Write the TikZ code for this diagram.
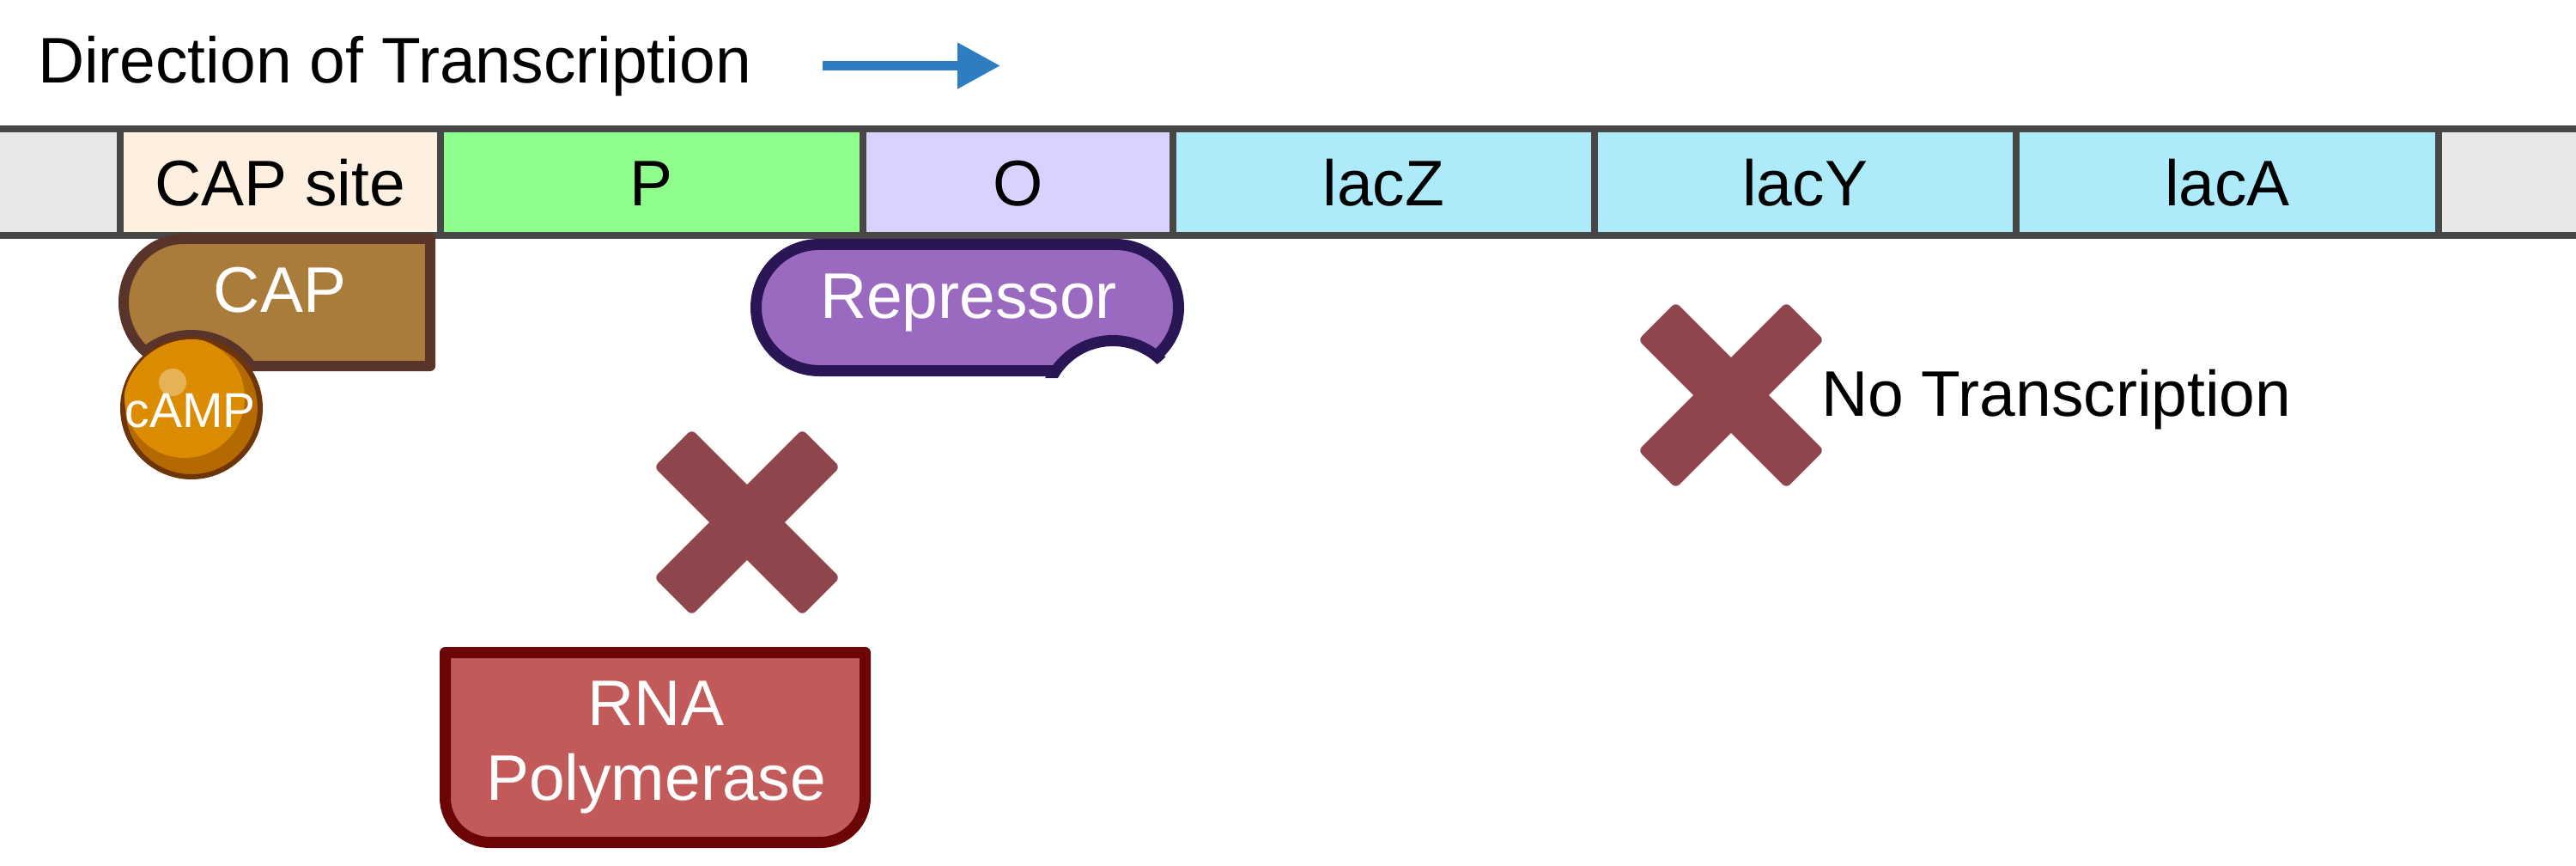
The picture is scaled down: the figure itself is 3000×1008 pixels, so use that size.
\documentclass[tikz,border=0pt]{standalone}
\usepackage{fontspec}
\setmainfont{Liberation Sans}
\usetikzlibrary{arrows.meta}
\definecolor{bandline}{HTML}{474747}
\definecolor{graybg}{HTML}{E8E8E8}
\definecolor{capsitec}{HTML}{FDF0E0}
\definecolor{promc}{HTML}{8EFF8C}
\definecolor{operc}{HTML}{D8D2FF}
\definecolor{genec}{HTML}{ADEBFB}
\definecolor{capfill}{HTML}{AA7C3C}
\definecolor{capstroke}{HTML}{58342A}
\definecolor{campdark}{HTML}{B46A00}
\definecolor{camplight}{HTML}{DC8C00}
\definecolor{camphl}{HTML}{E6B256}
\definecolor{campline}{HTML}{6E3508}
\definecolor{repfill}{HTML}{9A6AC0}
\definecolor{repstroke}{HTML}{2A1655}
\definecolor{rnafill}{HTML}{C25A5A}
\definecolor{rnastroke}{HTML}{6C0606}
\definecolor{xcol}{HTML}{8E454B}
\definecolor{arrowblue}{HTML}{2F7DC1}
\begin{document}
\begin{tikzpicture}[x=1pt,y=-1pt,
  every node/.style={inner sep=0pt,outer sep=0pt},
  bigtext/.style={font=\fontsize{75}{87}\selectfont,text height=54pt,text depth=0pt},
  segbox/.style={draw=bandline,line width=8pt,minimum height=124.5pt,bigtext,text=black},
  wtext/.style={bigtext,text=white},
  xarm/.style={fill=xcol,rounded corners=6pt}]
\useasboundingbox (0,0) rectangle (3000,1008);
\fill[white] (0,0) rectangle (3000,1008);

% title and direction arrow
\node[bigtext,anchor=west] (title) at (44,70) {Direction of Transcription};
\coordinate (dirA) at (958,76.5);
\coordinate (dirB) at (1165,76.5);
\draw[arrowblue,line width=11pt,-{Triangle[length=50pt,width=51pt]}] (dirA) -- (dirB);

% DNA band
\node[segbox,fill=graybg,minimum width=159.5pt] (gl) at (59.75,212.25) {};
\node[segbox,fill=capsitec,minimum width=373.5pt] (capsite) at (326.25,212.25) {CAP site};
\node[segbox,fill=promc,minimum width=492pt] (prom) at (759,212.25) {P};
\node[segbox,fill=operc,minimum width=361pt] (oper) at (1185.5,212.25) {O};
\node[segbox,fill=genec,minimum width=490.5pt] (lacZ) at (1611.25,212.25) {lacZ};
\node[segbox,fill=genec,minimum width=491.5pt] (lacY) at (2102.25,212.25) {lacY};
\node[segbox,fill=genec,minimum width=492pt] (lacA) at (2594,212.25) {lacA};
\node[segbox,fill=graybg,minimum width=180pt] (gr) at (2930,212.25) {};

% CAP protein
\filldraw[fill=capfill,draw=capstroke,line width=12pt,line join=round]
  (501,278) -- (214,278) arc[start angle=-90,end angle=-270,x radius=70,y radius=74] -- (501,426) -- cycle;
\node[wtext] (cap) at (326,336) {CAP};
\begin{scope}
  \clip (501,278) -- (214,278) arc[start angle=-90,end angle=-270,x radius=70,y radius=74] -- (501,426) -- cycle;
  \fill[capstroke] (223,475) circle[radius=91];
\end{scope}
% cAMP
\filldraw[fill=campdark,draw=campline,line width=6pt] (223,475) circle[radius=80];
\begin{scope}
  \clip (223,475) circle[radius=80];
  \fill[camplight] (215,463) circle[radius=70];
\end{scope}
\fill[camphl] (201,445) ellipse[x radius=16,y radius=16];
\node[font=\fontsize{57}{66}\selectfont,text height=41pt,text depth=0pt,text=white] (camp) at (222,476.5) {cAMP};

% Repressor
\filldraw[fill=repfill,draw=repstroke,line width=13pt]
  (954,284.5) -- (1299,284.5) arc[start angle=-90,end angle=90,radius=73.5]
  -- (954,431.5) arc[start angle=90,end angle=270,radius=73.5] -- cycle;
\begin{scope}
  \clip (954,277) -- (1299,277) arc[start angle=-90,end angle=90,radius=81.5]
  -- (954,440) arc[start angle=90,end angle=270,radius=81.5] -- cycle;
  \filldraw[fill=white,draw=repstroke,line width=13pt] (1296,477) circle[radius=80.5];
\end{scope}
\node[wtext] (rep) at (1128,343) {Repressor};

% X marks
\foreach \cx/\cy in {870/608,2016/460}{
  \fill[xarm,rotate around={45:(\cx,\cy)}] (\cx-122,\cy-31) rectangle (\cx+122,\cy+31);
  \fill[xarm,rotate around={-45:(\cx,\cy)}] (\cx-122,\cy-31) rectangle (\cx+122,\cy+31);
}
\node[bigtext,anchor=west] (notx) at (2121,457) {No Transcription};

% RNA polymerase
\filldraw[fill=rnafill,draw=rnastroke,line width=13pt,line join=round]
  (518.5,759.5) -- (1007.5,759.5) -- (1007.5,928.5) arc[start angle=0,end angle=90,radius=52]
  -- (570.5,980.5) arc[start angle=90,end angle=180,radius=52] -- cycle;
\node[wtext] (rna1) at (764,817) {RNA};
\node[wtext] (rna2) at (764,904) {Polymerase};
\end{tikzpicture}
\end{document}
